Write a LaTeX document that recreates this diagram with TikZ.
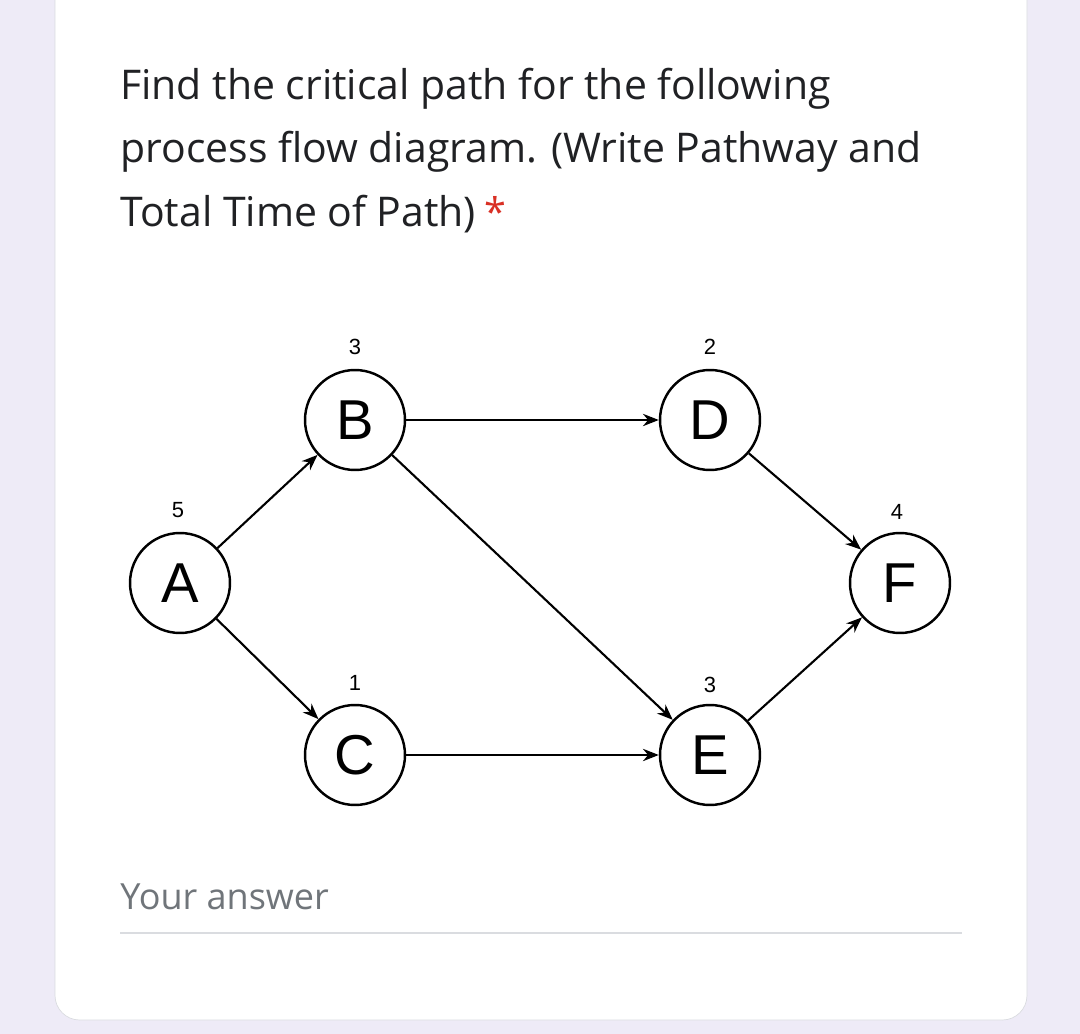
\documentclass[tikz,border=0pt]{standalone}
\usepackage{fontspec}
\setmainfont{Liberation Sans}
\newfontfamily\qfont{Open Sans}
\usetikzlibrary{arrows.meta}
\definecolor{bgc}{HTML}{EEEBF7}
\definecolor{cardb}{HTML}{DADCE0}
\definecolor{gtext}{HTML}{202124}
\definecolor{hint}{HTML}{70757A}
\definecolor{req}{HTML}{D93025}
\tikzset{
  px/.style={x=0.02cm,y=-0.02cm},
  ev/.style={circle,draw,line width=1.4pt,minimum size=2cm,inner sep=0pt,font=\fontsize{32}{32}\selectfont},
  lab/.style={font=\fontsize{12.5}{12.5}\selectfont},
  con/.style={line width=1.2pt,-{Stealth[length=9pt,width=7pt]}},
  qtext/.style={anchor=base west,inner sep=0pt,text=gtext,font=\qfont\fontsize{23.3}{23.3}\selectfont}
}
\begin{document}
\begin{tikzpicture}[px]
\fill[bgc] (0,0) rectangle (1080,1034);
\useasboundingbox (0,0) rectangle (1080,1034);
\draw[cardb,fill=white,rounded corners=14] (55,-30) rectangle (1027,1020);
\node[qtext] (q1) at (120,100) {Find the critical path for the following};
\node[qtext] (q2) at (120,163) {process flow diagram. (Write Pathway and};
\node[qtext] (q3) at (120,227) {Total Time of Path)};
\node[anchor=base west,inner sep=0pt,text=req,font=\qfont\fontsize{22.5}{22.5}\selectfont] (st) at (484,227) {*};
\node[ev] (A) at (180,583) {A};
\node[ev] (B) at (355,420) {B};
\node[ev] (C) at (355,755) {C};
\node[ev] (D) at (710,420) {D};
\node[ev] (E) at (710,755) {E};
\node[ev] (F) at (900,583) {F};
\node[lab] (lA) at (178,510) {5};
\node[lab] (lB) at (355,347) {3};
\node[lab] (lC) at (355,683) {1};
\node[lab] (lD) at (710,347) {2};
\node[lab] (lE) at (710,685) {3};
\node[lab] (lF) at (897,512) {4};
\draw[con] (A) -- (B);
\draw[con] (A) -- (C);
\draw[con] (B) -- (D);
\draw[con] (B) -- (E);
\draw[con] (C) -- (E);
\draw[con] (D) -- (F);
\draw[con] (E) -- (F);
\node[anchor=base west,inner sep=0pt,text=hint,font=\qfont\fontsize{20.5}{20.5}\selectfont] (ans) at (120,909) {Your answer};
\draw[cardb,line width=1.5pt] (120,933) coordinate (u1) -- (962,933) coordinate (u2);
\end{tikzpicture}
\end{document}
